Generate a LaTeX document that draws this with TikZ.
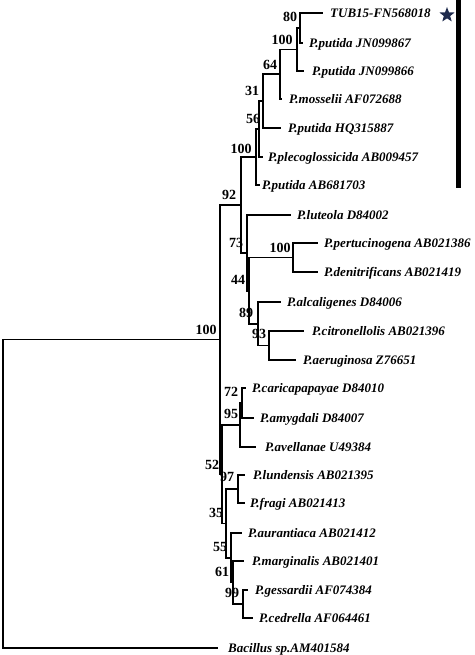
\documentclass[tikz,border=0pt]{standalone}
\usepackage{fontspec}
\setmainfont{Liberation Serif}
\usetikzlibrary{shapes.geometric}
\definecolor{starblue}{RGB}{32,44,78}
\tikzset{
  branch/.style={line width=1.8pt, line cap=rect},
  leaflabel/.style={anchor=base west, inner sep=0pt, font=\fontsize{13}{13}\selectfont\bfseries\itshape},
  boot/.style={anchor=center, inner sep=0pt, font=\fontsize{14}{14}\selectfont\bfseries},
}
\begin{document}
\begin{tikzpicture}[x=1pt,y=-1pt]
\useasboundingbox (0,0) rectangle (474,655);
% ---- leaf ends
\coordinate (tub) at (322,13);
\coordinate (jn7) at (302,43);
\coordinate (jn6) at (303,71);
\coordinate (mos) at (281,99);
\coordinate (hq) at (280,128);
\coordinate (ple) at (262,157);
\coordinate (ab68) at (259,185);
\coordinate (lut) at (290,215);
\coordinate (per) at (317,243);
\coordinate (den) at (317,272);
\coordinate (alc) at (280,302);
\coordinate (cit) at (303,331);
\coordinate (aer) at (295,360);
\coordinate (car) at (245,388);
\coordinate (amy) at (253,418);
\coordinate (ave) at (255,447);
\coordinate (lun) at (244,475);
\coordinate (fra) at (244,503);
\coordinate (aur) at (241,533);
\coordinate (mar) at (243,561);
\coordinate (ges) at (247,590);
\coordinate (ced) at (252,618);
\coordinate (bac) at (217,648);
% ---- internal nodes
\coordinate (n80) at (300,28);
\coordinate (n100a) at (297,49.5);
\coordinate (n64) at (280,74.25);
\coordinate (n31) at (263,101.1);
\coordinate (n56) at (259,129);
\coordinate (n100b) at (256,157);
\coordinate (n100c) at (293,257.5);
\coordinate (n93) at (269,345.5);
\coordinate (n89) at (258,323.75);
\coordinate (n44) at (249,290.6);
\coordinate (n73) at (247,252.8);
\coordinate (n92) at (241,204.9);
\coordinate (n72) at (242,403);
\coordinate (n95) at (240,425);
\coordinate (n97) at (238,489);
\coordinate (n99) at (243,604);
\coordinate (n61) at (233,582.5);
\coordinate (n55) at (231,557.75);
\coordinate (n35) at (226,523.4);
\coordinate (n52) at (222,474.2);
\coordinate (n100r) at (220,339.5);
\coordinate (root) at (3,493.75);
% ---- branches
\draw[branch] (n80) |- (tub);
\draw[branch] (n80) |- (jn7);
\draw[branch] (n100a) |- (n80);
\draw[branch] (n100a) |- (jn6);
\draw[branch] (n64) |- (n100a);
\draw[branch] (n64) |- (mos);
\draw[branch] (n31) |- (n64);
\draw[branch] (n31) |- (hq);
\draw[branch] (n56) |- (n31);
\draw[branch] (n56) |- (ple);
\draw[branch] (n100b) |- (n56);
\draw[branch] (n100b) |- (ab68);
\draw[branch] (n92) |- (n100b);
\draw[branch] (n92) |- (n73);
\draw[branch] (n73) |- (lut);
\draw[branch] (n73) |- (n44);
\draw[branch] (n44) |- (n100c);
\draw[branch] (n44) |- (n89);
\draw[branch] (n100c) |- (per);
\draw[branch] (n100c) |- (den);
\draw[branch] (n89) |- (alc);
\draw[branch] (n89) |- (n93);
\draw[branch] (n93) |- (cit);
\draw[branch] (n93) |- (aer);
\draw[branch] (n72) |- (car);
\draw[branch] (n72) |- (amy);
\draw[branch] (n95) |- (n72);
\draw[branch] (n95) |- (ave);
\draw[branch] (n97) |- (lun);
\draw[branch] (n97) |- (fra);
\draw[branch] (n99) |- (ges);
\draw[branch] (n99) |- (ced);
\draw[branch] (n61) |- (mar);
\draw[branch] (n61) |- (n99);
\draw[branch] (n55) |- (aur);
\draw[branch] (n55) |- (n61);
\draw[branch] (n35) |- (n97);
\draw[branch] (n35) |- (n55);
\draw[branch] (n52) |- (n95);
\draw[branch] (n52) |- (n35);
\draw[branch] (n100r) |- (n92);
\draw[branch] (n100r) |- (n52);
\draw[branch] (root) |- (n100r);
\draw[branch] (root) |- (bac);
% ---- leaf labels
\node[leaflabel] (Ltub) at (330,17.5) {TUB15-FN568018};
\node[leaflabel] (Ljn7) at (309,47.5) {P.putida JN099867};
\node[leaflabel] (Ljn6) at (312,75.5) {P.putida JN099866};
\node[leaflabel] (Lmos) at (289,103.5) {P.mosselii AF072688};
\node[leaflabel] (Lhq) at (288,132.5) {P.putida HQ315887};
\node[leaflabel] (Lple) at (268,161.5) {P.plecoglossicida AB009457};
\node[leaflabel] (Lab68) at (262,189.5) {P.putida AB681703};
\node[leaflabel] (Llut) at (297,219.5) {P.luteola D84002};
\node[leaflabel] (Lper) at (324,247.5) {P.pertucinogena AB021386};
\node[leaflabel] (Lden) at (324,276.5) {P.denitrificans AB021419};
\node[leaflabel] (Lalc) at (287,306.5) {P.alcaligenes D84006};
\node[leaflabel] (Lcit) at (312,335.5) {P.citronellolis AB021396};
\node[leaflabel] (Laer) at (303,364.5) {P.aeruginosa Z76651};
\node[leaflabel] (Lcar) at (252,392.5) {P.caricapapayae D84010};
\node[leaflabel] (Lamy) at (260,422.5) {P.amygdali D84007};
\node[leaflabel] (Lave) at (265,451.5) {P.avellanae U49384};
\node[leaflabel] (Llun) at (253,479.5) {P.lundensis AB021395};
\node[leaflabel] (Lfra) at (250,507.5) {P.fragi AB021413};
\node[leaflabel] (Laur) at (248,537.5) {P.aurantiaca AB021412};
\node[leaflabel] (Lmar) at (252,565.5) {P.marginalis AB021401};
\node[leaflabel] (Lges) at (255,594.5) {P.gessardii AF074384};
\node[leaflabel] (Lced) at (259,622.5) {P.cedrella AF064461};
\node[leaflabel] (Lbac) at (228,652.5) {Bacillus sp.AM401584};
% ---- bootstrap values
\node[boot] (b80) at (290,17) {80};
\node[boot] (b100a) at (282,40) {100};
\node[boot] (b64) at (270,65) {64};
\node[boot] (b31) at (252,91) {31};
\node[boot] (b56) at (253,119) {56};
\node[boot] (b100b) at (241,149) {100};
\node[boot] (b92) at (229,195) {92};
\node[boot] (b73) at (236,243) {73};
\node[boot] (b44) at (238,280) {44};
\node[boot] (b100c) at (280,248) {100};
\node[boot] (b89) at (246,313) {89};
\node[boot] (b93) at (259,334) {93};
\node[boot] (b100r) at (206,330) {100};
\node[boot] (b72) at (231,392) {72};
\node[boot] (b95) at (231,414) {95};
\node[boot] (b52) at (212,465) {52};
\node[boot] (b97) at (227,477) {97};
\node[boot] (b35) at (216,513) {35};
\node[boot] (b55) at (220,547) {55};
\node[boot] (b61) at (222,572) {61};
\node[boot] (b99) at (232,593) {99};
% ---- star and bar
\node[star, star points=5, star point ratio=2.4, fill=starblue, minimum size=16pt, inner sep=0pt] (star) at (447,15) {};
\coordinate (bartop) at (458.5,0);
\coordinate (barbot) at (458.5,188);
\draw[line width=4.5pt] (bartop) -- (barbot);
\end{tikzpicture}
\end{document}
